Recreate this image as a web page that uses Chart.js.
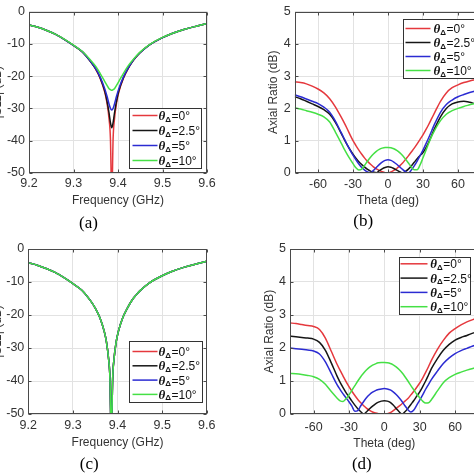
<!DOCTYPE html>
<html><head><meta charset="utf-8">
<script src="https://cdn.jsdelivr.net/npm/chart.js@4.4.0/dist/chart.umd.min.js"></script>
<style>
html,body{margin:0;padding:0;background:#fff;overflow:hidden;}
body{width:474px;height:474px;position:relative;}
canvas{position:absolute;}
</style></head><body>
<canvas id="ca" width="250" height="237" style="left:-30px;top:0px"></canvas>
<canvas id="cb" width="250" height="237" style="left:245px;top:0px"></canvas>
<canvas id="cc" width="250" height="237" style="left:-30px;top:237px"></canvas>
<canvas id="cd" width="250" height="237" style="left:245px;top:237px"></canvas>
<script>
// ---------------- data ----------------
const legendLabels = ['θΔ=0°', 'θΔ=2.5°', 'θΔ=5°', 'θΔ=10°'];
const freqGHz = [9.20,9.22,9.24,9.26,9.28,9.30,9.32,9.34,9.35,9.36,9.37,9.375,9.38,9.383,9.386,9.389,9.392,9.397,9.402,9.412,9.422,9.432,9.44,9.45,9.47,9.50,9.52,9.55,9.58,9.60];
const s11_0   = [-4.2,-4.9,-5.9,-7.1,-8.7,-10.5,-12.5,-15.8,-17.9,-20.7,-24.9,-28.1,-33.4,-39.4,-58.0,-39.4,-33.4,-28.1,-24.9,-20.7,-17.9,-15.6,-14.2,-12.7,-10.4,-8.1,-6.9,-5.5,-4.4,-3.7];
const s11_2p5 = [-4.2,-4.9,-5.9,-7.1,-8.7,-10.5,-12.5,-15.8,-17.8,-20.6,-24.5,-27.5,-31.5,-34.4,-36.0,-34.4,-31.5,-27.5,-24.5,-20.6,-17.8,-15.6,-14.2,-12.7,-10.4,-8.1,-6.9,-5.5,-4.4,-3.7];
const s11_5   = [-4.2,-4.9,-5.9,-7.1,-8.7,-10.5,-12.5,-15.7,-17.7,-20.3,-23.8,-26.1,-28.7,-30.0,-30.5,-30.0,-28.7,-26.1,-23.8,-20.3,-17.7,-15.5,-14.1,-12.7,-10.4,-8.1,-6.9,-5.5,-4.4,-3.7];
const s11_10  = [-4.2,-4.9,-5.9,-7.1,-8.6,-10.4,-12.4,-15.3,-17.0,-19.2,-21.6,-22.8,-23.9,-24.2,-24.4,-24.2,-23.9,-22.8,-21.6,-19.2,-17.0,-15.2,-13.9,-12.5,-10.3,-8.0,-6.9,-5.5,-4.4,-3.7];
// panel (c): all four cases coincide
const s11C = [-4.2,-4.9,-5.9,-7.1,-8.7,-10.5,-12.5,-15.8,-17.9,-20.7,-24.9,-28.1,-33.4,-39.4,-58.0,-39.4,-33.4,-28.1,-24.9,-20.7,-17.9,-15.6,-14.2,-12.7,-10.4,-8.1,-6.9,-5.5,-4.4,-3.7];

const thetaDeg = [-80,-75,-70,-65,-60,-55,-50,-45,-40,-37.5,-35,-32.5,-30,-27.5,-25,-22.5,-20,-17.5,-15,-12.5,-10,-7.5,-5,-2.5,0,2.5,5,7.5,10,12.5,15,17.5,20,22.5,25,27.5,30,32.5,35,37.5,40,45,50,55,60,65,70,75,80];
const arB_0   = [2.82,2.80,2.76,2.69,2.60,2.48,2.30,2.04,1.72,1.55,1.37,1.18,1.00,0.85,0.71,0.58,0.46,0.36,0.27,0.19,0.13,0.08,0.04,0.01,0.00,0.03,0.08,0.14,0.22,0.31,0.42,0.53,0.65,0.77,0.90,1.04,1.18,1.34,1.51,1.69,1.87,2.22,2.48,2.64,2.73,2.80,2.85,2.89,2.93];
const arB_2p5 = [2.36,2.30,2.22,2.14,2.06,1.96,1.82,1.56,1.22,1.04,0.87,0.72,0.58,0.46,0.35,0.26,0.18,0.11,0.06,0.03,0.01,0.07,0.13,0.17,0.19,0.18,0.14,0.09,0.04,0.00,0.05,0.12,0.22,0.33,0.44,0.54,0.63,0.78,0.96,1.17,1.38,1.74,2.00,2.14,2.20,2.22,2.19,2.14,2.10];
const arB_5   = [2.42,2.36,2.29,2.22,2.15,2.04,1.88,1.60,1.24,1.06,0.88,0.71,0.55,0.41,0.28,0.17,0.09,0.03,0.01,0.08,0.17,0.26,0.34,0.39,0.41,0.39,0.34,0.27,0.19,0.11,0.04,0.00,0.09,0.22,0.37,0.54,0.71,0.90,1.10,1.31,1.52,1.88,2.12,2.26,2.36,2.43,2.49,2.54,2.58];
const arB_10  = [2.02,1.98,1.93,1.88,1.82,1.74,1.58,1.26,0.92,0.74,0.58,0.43,0.29,0.16,0.09,0.12,0.24,0.37,0.49,0.59,0.67,0.73,0.77,0.79,0.79,0.78,0.75,0.70,0.63,0.54,0.43,0.31,0.19,0.10,0.10,0.25,0.47,0.70,0.93,1.14,1.32,1.62,1.82,1.93,2.00,2.06,2.11,2.16,2.20];
const arD_0   = [2.76,2.74,2.71,2.68,2.65,2.56,2.30,1.90,1.50,1.32,1.15,0.98,0.83,0.69,0.56,0.44,0.34,0.25,0.17,0.11,0.06,0.03,0.01,0.00,0.00,0.01,0.04,0.10,0.17,0.24,0.31,0.39,0.47,0.58,0.69,0.81,0.94,1.09,1.26,1.44,1.63,1.96,2.23,2.45,2.59,2.70,2.79,2.86,2.92];
const arD_2p5 = [2.36,2.34,2.32,2.30,2.27,2.17,1.93,1.55,1.14,0.96,0.80,0.65,0.52,0.39,0.27,0.16,0.07,0.00,0.07,0.16,0.24,0.31,0.36,0.39,0.40,0.39,0.35,0.27,0.17,0.07,0.00,0.07,0.17,0.29,0.41,0.54,0.67,0.83,1.00,1.19,1.38,1.68,1.93,2.11,2.24,2.32,2.38,2.45,2.50];
const arD_5   = [2.00,1.98,1.96,1.94,1.91,1.82,1.58,1.23,0.88,0.74,0.61,0.49,0.37,0.24,0.08,0.10,0.25,0.38,0.50,0.59,0.66,0.71,0.74,0.76,0.77,0.76,0.73,0.67,0.59,0.49,0.38,0.25,0.13,0.06,0.12,0.27,0.42,0.58,0.75,0.90,1.05,1.30,1.53,1.70,1.83,1.92,1.99,2.06,2.12];
const arD_10  = [1.23,1.22,1.20,1.17,1.13,1.05,0.90,0.68,0.48,0.40,0.38,0.46,0.58,0.72,0.86,1.00,1.13,1.24,1.34,1.42,1.48,1.52,1.55,1.56,1.56,1.55,1.53,1.49,1.43,1.35,1.25,1.13,1.00,0.86,0.73,0.60,0.49,0.39,0.33,0.34,0.44,0.70,0.95,1.10,1.20,1.27,1.33,1.38,1.42];

const freqTicks = [9.2, 9.3, 9.4, 9.5, 9.6];
const s11Ticks = [-50, -40, -30, -20, -10, 0];
const thetaTicks = [-60, -30, 0, 30, 60];
const arTicks = [0, 1, 2, 3, 4, 5];

// ---------------- styles ----------------
const lineColors = ['#e5383d', '#161616', '#2b2bd2', '#45e045'];
const F = '"Liberation Sans", Arial, sans-serif';
const tickColor = '#333333';
const gridColor = '#e2e2e2';

const framePlugin = {
  id: 'frame',
  afterDatasetsDraw(chart) {
    const {ctx, chartArea: a, scales} = chart;
    const L = Math.round(a.left) + 0.5, T = Math.round(a.top) + 0.5;
    const R = Math.round(a.right) - 0.5, B = Math.round(a.bottom) - 0.5;
    ctx.save();
    ctx.strokeStyle = '#4a4a4a';
    ctx.lineWidth = 1;
    ctx.strokeRect(L, T, R - L, B - T);
    ctx.beginPath();
    scales.x.ticks.forEach(t => {
      const px = Math.round(scales.x.getPixelForValue(t.value)) + 0.5;
      ctx.moveTo(px, B); ctx.lineTo(px, B - 3);
      ctx.moveTo(px, T); ctx.lineTo(px, T + 3);
    });
    scales.y.ticks.forEach(t => {
      const py = Math.round(scales.y.getPixelForValue(t.value)) + 0.5;
      ctx.moveTo(L, py); ctx.lineTo(L + 3, py);
      ctx.moveTo(R, py); ctx.lineTo(R - 3, py);
    });
    ctx.stroke();
    ctx.restore();
  }
};

const boxLegendPlugin = {
  id: 'boxLegend',
  afterDraw(chart, args, o) {
    const {ctx, chartArea: a} = chart;
    const x0 = Math.round(a.left + o.dx) + 0.5, y0 = Math.round(a.top + o.dy) + 0.5;
    ctx.save();
    ctx.fillStyle = '#fff';
    ctx.fillRect(x0, y0, o.w, o.h);
    ctx.strokeStyle = '#333';
    ctx.lineWidth = 1;
    ctx.strokeRect(x0, y0, o.w, o.h);
    chart.data.datasets.forEach((ds, i) => {
      const yc = y0 + o.row0 + i * o.rowH;
      ctx.strokeStyle = ds.borderColor;
      ctx.lineWidth = 1.5;
      ctx.beginPath(); ctx.moveTo(x0 + o.lx, yc); ctx.lineTo(x0 + o.lx + o.ll, yc); ctx.stroke();
      const label = ds.label;
      let tx = x0 + o.tx;
      const base = yc + 4.5;
      ctx.fillStyle = '#111';
      ctx.textBaseline = 'alphabetic';
      ctx.font = 'italic bold 13px "Liberation Serif"';
      ctx.fillText(label[0], tx, base); tx += ctx.measureText(label[0]).width;
      ctx.font = 'bold 8px "Liberation Sans"';
      ctx.fillText(label[1], tx, base + 1.5); tx += ctx.measureText(label[1]).width + 0.5;
      ctx.font = '12px "Liberation Sans"';
      ctx.fillText(label.slice(2), tx, base);
    });
    ctx.restore();
  }
};

function buildChart(id, o) {
  return new Chart(document.getElementById(id), {
    type: 'line',
    data: {
      datasets: o.series.map((s, i) => ({
        label: legendLabels[i],
        data: o.x.map((xv, k) => ({x: xv, y: s[k]})),
        borderColor: lineColors[i],
        backgroundColor: lineColors[i],
        borderWidth: 1.5,
        pointRadius: 0,
        fill: false,
        cubicInterpolationMode: 'monotone',
        order: 3 - i
      }))
    },
    options: {
      responsive: false, animation: false, events: [],
      layout: {padding: {top: o.padTop, right: o.padRight, left: 0, bottom: 0}},
      plugins: {
        legend: {display: false}, tooltip: {enabled: false},
        title: {display: true, text: o.caption, position: 'bottom', color: '#000',
                font: {family: '"Liberation Serif", serif', size: 17, weight: 'normal', lineHeight: 1},
                padding: {top: 0, bottom: o.capPad}},
        boxLegend: o.legend
      },
      scales: {
        x: {
          type: 'linear', min: o.xMin, max: o.xMax,
          afterBuildTicks: s => { s.ticks = o.xTicks.map(v => ({value: v})); },
          afterFit: s => { s.height = o.xH; },
          grid: {color: gridColor, drawTicks: false, lineWidth: 1},
          border: {display: false},
          ticks: {padding: o.xTickPad, color: tickColor, font: {family: F, size: 12.5}, maxRotation: 0, autoSkip: false,
                  callback: o.xFmt},
          title: {display: true, text: o.xTitle, color: tickColor, font: {family: F, size: 12, lineHeight: 1.2},
                  padding: {top: 0, bottom: o.xTitlePad}}
        },
        y: {
          type: 'linear', min: o.yMin, max: o.yMax,
          afterBuildTicks: s => { s.ticks = o.yTicks.map(v => ({value: v})); },
          afterFit: s => { s.width = o.yW; },
          grid: {color: gridColor, drawTicks: false, lineWidth: 1},
          border: {display: false},
          ticks: {padding: 4, color: tickColor, font: {family: F, size: 12.5}, autoSkip: false,
                  callback: v => String(v)},
          title: {display: true, text: o.yTitle, color: tickColor, font: {family: F, size: 12, lineHeight: 1.2},
                  padding: {top: o.yTitlePad, bottom: 0}}
        }
      }
    },
    plugins: [framePlugin, boxLegendPlugin]
  });
}

const freqFmt = v => Number(v).toFixed(1);
const intFmt = v => String(v);

buildChart('ca', {
  x: freqGHz, series: [s11_0, s11_2p5, s11_5, s11_10],
  xMin: 9.2, xMax: 9.6, xTicks: freqTicks, xFmt: freqFmt, xTitle: 'Frequency (GHz)',
  yMin: -50, yMax: 0, yTicks: s11Ticks, yTitle: '|S11| (dB)',
  padTop: 6, padRight: 13, yW: 59, yTitlePad: 20.8,
  xH: 42.5, xTickPad: 3, xTitlePad: 7.3, caption: '(a)', capPad: 4.5,
  legend: {dx: 100, dy: 96, w: 72, h: 60, row0: 7, rowH: 15, lx: 3, ll: 25, tx: 29}
});
buildChart('cb', {
  x: thetaDeg, series: [arB_0, arB_2p5, arB_5, arB_10],
  xMin: -80, xMax: 80, xTicks: thetaTicks, xFmt: intFmt, xTitle: 'Theta (deg)',
  yMin: 0, yMax: 5, yTicks: arTicks, yTitle: 'Axial Ratio (dB)',
  padTop: 6, padRight: 13.7, yW: 49.7, yTitlePad: 21.5,
  xH: 40.2, xTickPad: 4.5, xTitlePad: 5, caption: '(b)', capPad: 6.8,
  legend: {dx: 108.3, dy: 7, w: 72, h: 59, row0: 9, rowH: 14, lx: 2, ll: 25, tx: 30}
});
buildChart('cc', {
  x: freqGHz, series: [s11C, s11C, s11C, s11C],
  xMin: 9.2, xMax: 9.6, xTicks: freqTicks, xFmt: freqFmt, xTitle: 'Frequency (GHz)',
  yMin: -50, yMax: 0, yTicks: s11Ticks, yTitle: '|S11| (dB)',
  padTop: 12, padRight: 11.7, yW: 58.3, yTitlePad: 20.8,
  xH: 42.5, xTickPad: 4.5, xTitlePad: 6.3, caption: '(c)', capPad: 0.5,
  legend: {dx: 100.7, dy: 92, w: 73, h: 61, row0: 10, rowH: 14.3, lx: 3, ll: 25, tx: 29}
});
buildChart('cd', {
  x: thetaDeg, series: [arD_0, arD_2p5, arD_5, arD_10],
  xMin: -80, xMax: 80, xTicks: thetaTicks, xFmt: intFmt, xTitle: 'Theta (deg)',
  yMin: 0, yMax: 5, yTicks: arTicks, yTitle: 'Axial Ratio (dB)',
  padTop: 12, padRight: 16.3, yW: 45, yTitlePad: 17.5,
  xH: 42.5, xTickPad: 6.2, xTitlePad: 5.6, caption: '(d)', capPad: 0.5,
  legend: {dx: 109, dy: 8, w: 71, h: 57, row0: 6.3, rowH: 14.3, lx: 1, ll: 27, tx: 30.7}
});
</script>
</body></html>
